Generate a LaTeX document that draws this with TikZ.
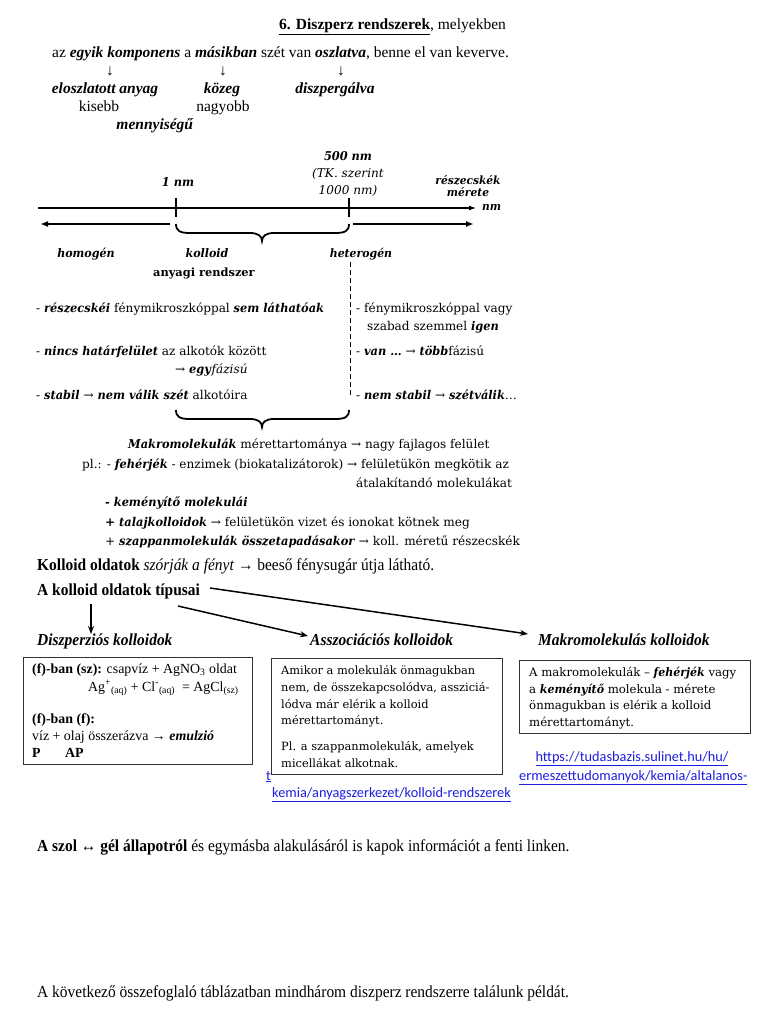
\documentclass[tikz,border=0pt]{standalone}
\usepackage{fontspec}
\setmainfont{Liberation Serif}
\newfontfamily\tnr{Liberation Serif}
\newfontfamily\tnrn[FakeStretch=0.92]{Liberation Serif}
\newfontfamily\dvs[BoldItalicFeatures={FakeStretch=0.94}]{DejaVu Serif}
\newfontfamily\linkfont{Carlito}
\usetikzlibrary{arrows.meta}
\newcommand{\bfit}[1]{\textbf{\textit{#1}}}
\definecolor{linkblue}{RGB}{30,30,225}
\definecolor{boxgray}{RGB}{50,50,50}
\tikzset{
  tx/.style={inner sep=0pt, anchor=base west, font=\tnr\fontsize{15.5}{18}\selectfont},
  txc/.style={tx, anchor=base},
  dv/.style={inner sep=0pt, anchor=base west, font=\dvs\fontsize{12.1}{15}\selectfont},
  dvc/.style={dv, anchor=base},
  nr/.style={inner sep=0pt, anchor=base west, font=\tnrn\fontsize{16.8}{19}\selectfont},
  bx/.style={inner sep=0pt, anchor=base west, font=\tnr\fontsize{13.9}{16}\selectfont},
  bxd/.style={inner sep=0pt, anchor=base west, font=\dvs\fontsize{11.4}{14}\selectfont},
  lk/.style={inner sep=0pt, anchor=base west, text=linkblue, font=\linkfont\fontsize{14.3}{16}\selectfont},
  frame/.style={draw=boxgray, line width=0.9pt, anchor=north west, inner sep=0pt},
  typarrow/.style={line width=1.5pt, -{Stealth[length=8pt,width=6pt]}},
  bracepath/.style={line width=1.8pt},
}
\begin{document}
\begin{tikzpicture}[x=1pt,y=-1pt]
\fill[white] (0,0) rectangle (768,1024);
\useasboundingbox (0,0) rectangle (768,1024);

% --- top
\node[tx] (title) at (279,30) {\textbf{\underline{6. Diszperz rendszerek}}, melyekben};
\node[tx] (l2) at (52,58) {az \bfit{egyik komponens} a \bfit{másikban} szét van \bfit{oszlatva}, benne el van keverve.};
\node[txc] (d1) at (110,76) {↓};
\node[txc] (d2) at (223,76) {↓};
\node[txc] (d3) at (341,76) {↓};
\node[txc] (ea) at (105,94) {\bfit{eloszlatott anyag}};
\node[txc] (kz) at (222,94) {\bfit{közeg}};
\node[txc] (dg) at (335,94) {\bfit{diszpergálva}};
\node[txc] (ks) at (99,112) {kisebb};
\node[txc] (ng) at (223,112) {nagyobb};
\node[txc] (mn) at (155,130) {\bfit{mennyiségű}};

% --- scale
\node[dvc] (n500) at (348,161) {\bfit{500 nm}};
\node[dvc] (tk1) at (348,178) {\textit{(TK. szerint}};
\node[dvc] (tk2) at (348,195) {\textit{1000 nm)}};
\node[dvc] (n1) at (178,187) {\bfit{1 nm}};
\node[dvc, font=\dvs\fontsize{11.3}{12}\selectfont] (rm1) at (468,185) {\bfit{részecskék}};
\node[dvc, font=\dvs\fontsize{11.3}{12}\selectfont] (rm2) at (468,197) {\bfit{mérete}};
\node[dv, font=\dvs\fontsize{11.3}{12}\selectfont] (nmu) at (482,211) {\bfit{nm}};

\coordinate (axL) at (38,208);
\coordinate (axR) at (476,208);
\draw[line width=1.1pt, -{Latex[length=7pt,width=5pt]}] (axL) -- (axR);
\coordinate (t1a) at (176,198); \coordinate (t1b) at (176,217);
\coordinate (t2a) at (349,198); \coordinate (t2b) at (349,217);
\draw[line width=1.5pt] (t1a) -- (t1b);
\draw[line width=1.5pt] (t2a) -- (t2b);
\coordinate (la1) at (170,224); \coordinate (la2) at (40,224);
\coordinate (ra1) at (353,224); \coordinate (ra2) at (474,224);
\draw[line width=1.8pt, -{Latex[length=8pt,width=6pt]}] (la1) -- (la2);
\draw[line width=1.8pt, -{Latex[length=8pt,width=6pt]}] (ra1) -- (ra2);
\draw[bracepath] (176,224) .. controls (176,231) and (180,233) .. (190,233) -- (250,233)
  .. controls (258,233) and (262,236) .. (262,241)
  .. controls (262,236) and (266,233) .. (274,233) -- (335,233)
  .. controls (345,233) and (349,231) .. (349,224);

\node[dvc, font=\dvs\fontsize{11.8}{15}\selectfont] (hom) at (86,258) {\bfit{homogén}};
\node[dvc, font=\dvs\fontsize{11.8}{15}\selectfont] (kol) at (207,258) {\bfit{kolloid}};
\node[dvc, font=\dvs\fontsize{11.6}{15}\selectfont] (het) at (361,258) {\bfit{heterogén}};
\node[dvc, font=\dvs\fontsize{11.4}{15}\selectfont] (anr) at (204,276) {\textbf{anyagi rendszer}};
\coordinate (dsa) at (350,262); \coordinate (dsb) at (350,396);
\draw[line width=1pt, dash pattern=on 5pt off 3pt] (dsa) -- (dsb);

% --- properties
\node[dv] (p1) at (36,312) {- \bfit{részecskéi} fénymikroszkóppal \bfit{sem láthatóak}};
\node[dv] (q1) at (356,312) {- fénymikroszkóppal vagy};
\node[dv] (q1b) at (367,330) {szabad szemmel \bfit{igen}};
\node[dv] (p2) at (36,355) {- \bfit{nincs határfelület} az alkotók között};
\node[dv] (p2b) at (175,373) {→ \bfit{egy}\textit{fázisú}};
\node[dv] (q2) at (356,355) {- \bfit{van …} → \bfit{több}fázisú};
\node[dv] (p3) at (36,399) {- \bfit{stabil} → \bfit{nem válik szét} alkotóira};
\node[dv] (q3) at (356,399) {- \bfit{nem stabil} → \bfit{szétválik}…};
\draw[bracepath] (176,410) .. controls (176,417) and (180,419) .. (190,419) -- (250,419)
  .. controls (258,419) and (262,422) .. (262,427)
  .. controls (262,422) and (266,419) .. (274,419) -- (335,419)
  .. controls (345,419) and (349,417) .. (349,410);

% --- macromolecules
\node[dv] (m1) at (128,448) {\bfit{Makromolekulák} mérettartománya → nagy fajlagos felület};
\node[dv] (m2) at (82,468) {pl.: - \bfit{fehérjék} - enzimek (biokatalizátorok) → felületükön megkötik az};
\node[dv] (m3) at (356,487) {átalakítandó molekulákat};
\node[dv] (m4) at (105,506) {\bfit{- keményítő molekulái}};
\node[dv] (m5) at (105,526) {\textbf{+} \bfit{talajkolloidok} → felületükön vizet és ionokat kötnek meg};
\node[dv] (m6) at (105,545) {+ \bfit{szappanmolekulák összetapadásakor} → koll. méretű részecskék};

% --- colloid types
\node[nr] (ko) at (37,570) {\textbf{Kolloid oldatok} \textit{szórják a fényt} → beeső fénysugár útja látható.};
\node[nr] (typ) at (37,595) {\textbf{A kolloid oldatok típusai}};
\node[nr] (dk) at (37,645) {\bfit{Diszperziós kolloidok}};
\node[nr] (ak) at (310,645) {\bfit{Asszociációs kolloidok}};
\node[nr] (mk) at (538,645) {\bfit{Makromolekulás kolloidok}};
\coordinate (s1) at (91,604); \coordinate (e1) at (91,634);
\coordinate (s2) at (178,606); \coordinate (e2) at (308,636);
\coordinate (s3) at (210,588); \coordinate (e3) at (528,634);
\draw[typarrow] (s1) -- (e1);
\draw[typarrow] (s2) -- (e2);
\draw[typarrow] (s3) -- (e3);

% --- boxes
\node[frame, minimum width=229pt, minimum height=107pt] (b1) at (23,657) {};
\node[bx] (b1a) at (32,673) {\textbf{(f)-ban (sz):} csapvíz + AgNO\textsubscript{3} oldat};
\node[bx] (b1b) at (88,691) {Ag\textsuperscript{+}\textsubscript{(aq)} + Cl\textsuperscript{-}\textsubscript{(aq)}\ \ = AgCl\textsubscript{(sz)}};
\node[bx] (b1c) at (32,723) {\textbf{(f)-ban (f):}};
\node[bx] (b1d) at (32,740) {víz + olaj összerázva → \bfit{emulzió}};
\node[bx] (b1e) at (32,757) {\textbf{P}};
\node[bx] (b1f) at (65,757) {\textbf{AP}};

\node[frame, minimum width=231pt, minimum height=116pt] (b2) at (271,658) {};
\node[bxd] (b2a) at (281,674) {Amikor a molekulák önmagukban};
\node[bxd] (b2b) at (281,691) {nem, de összekapcsolódva, assziciá-};
\node[bxd] (b2c) at (281,708) {lódva már elérik a kolloid};
\node[bxd] (b2d) at (281,724) {mérettartományt.};
\node[bxd] (b2e) at (281,750) {Pl. a szappanmolekulák, amelyek};
\node[bxd] (b2f) at (281,767) {micellákat alkotnak.};

\node[frame, minimum width=231pt, minimum height=73pt] (b3) at (519,660) {};
\node[bxd, font=\dvs\fontsize{11.7}{14}\selectfont] (b3a) at (529,676) {A makromolekulák – \bfit{fehérjék} vagy};
\node[bxd, font=\dvs\fontsize{11.7}{14}\selectfont] (b3b) at (529,693) {a \bfit{keményítő} molekula - mérete};
\node[bxd, font=\dvs\fontsize{11.7}{14}\selectfont] (b3c) at (529,709) {önmagukban is elérik a kolloid};
\node[bxd, font=\dvs\fontsize{11.7}{14}\selectfont] (b3d) at (529,726) {mérettartományt.};

% --- links
\node[lk, anchor=base] (k1) at (632,761) {\underline{https://tudasbazis.sulinet.hu/hu/}};
\node[lk] (k2) at (266,780) {\underline{t}};
\node[lk] (k3) at (519,780) {\underline{ermeszettudomanyok/kemia/altalanos-}};
\node[lk] (k4) at (272,797) {\underline{kemia/anyagszerkezet/kolloid-rendszerek}};

% --- bottom
\node[nr] (sg) at (37,851) {\textbf{A szol ↔ gél állapotról} és egymásba alakulásáról is kapok információt a fenti linken.};
\node[nr] (kv) at (37,997) {A következő összefoglaló táblázatban mindhárom diszperz rendszerre találunk példát.};
\end{tikzpicture}
\end{document}
